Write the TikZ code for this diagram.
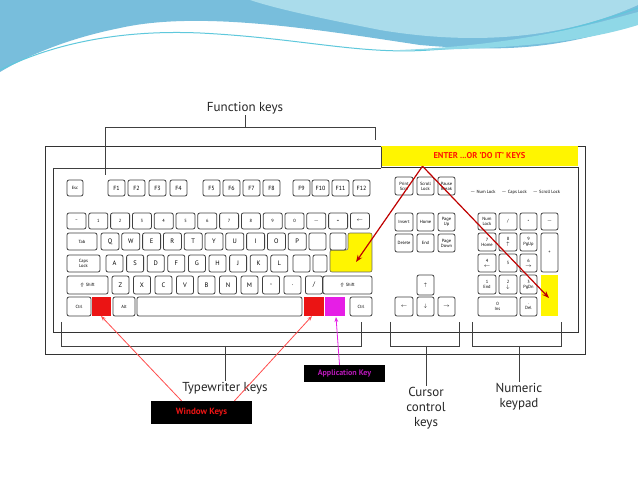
\documentclass[tikz,border=0pt]{standalone}
\usepackage{fontspec}
\setmainfont{PT Sans}
\usetikzlibrary{arrows.meta}
\definecolor{wave1}{RGB}{120,190,220}
\definecolor{wave2}{RGB}{170,220,235}
\definecolor{wave3}{RGB}{95,200,220}
\definecolor{winred}{RGB}{235,20,20}
\definecolor{appmag}{RGB}{230,30,230}
\definecolor{entyel}{RGB}{255,245,0}
\tikzset{
 keyst/.style={draw=black!75,line width=0.8pt,rounded corners=2pt,fill=white},
 kl/.style={font=\fontsize{4.5}{5}\selectfont,inner sep=0pt,align=center},
 frame/.style={draw=black!80,line width=1pt},
 brk/.style={draw=black!75,line width=0.8pt},
 lab/.style={font=\fontsize{13}{15}\selectfont,text=black!85,align=center,inner sep=1pt},
 parr/.style={draw=red!60!pink,line width=0.8pt,-{Stealth[length=5pt]}},
 rarr/.style={draw=red!75!black,line width=1.2pt,-{Stealth[length=7pt]}}
}
\newcommand\kk[5]{\draw[keyst] (#1,#2) rectangle (#3,#4); \node[kl] at ({(#1+#3)/2},{(#2+#4)/2}) {#5};}
\begin{document}
\begin{tikzpicture}[x=1pt,y=-1pt]
\useasboundingbox (0,0) rectangle (638,478);
\fill[white] (0,0) rectangle (638,478);
% waves
\fill[wave1] (0,0) -- (638,0) -- (638,22) .. controls (560,50) and (500,52) .. (420,45) .. controls (320,30) and (200,10) .. (120,28) .. controls (60,40) and (20,60) .. (0,72) -- cycle;
\fill[wave2] (250,0) -- (638,0) -- (638,5) .. controls (560,40) and (470,45) .. (380,30) .. controls (330,20) and (280,10) .. (250,0) -- cycle;
\draw[wave3,line width=1pt] (0,70) .. controls (60,40) and (130,30) .. (200,33) .. controls (300,38) and (360,55) .. (430,50) .. controls (520,45) and (590,25) .. (638,8);
\fill[wave3!70] (400,50) .. controls (520,45) and (590,25) .. (638,12) -- (638,25) .. controls (590,40) and (520,50) .. (400,50) -- cycle;
% keyboard frame
\draw[frame] (45,147) rectangle (585,355);
\draw[frame] (53,168) -- (53,333) -- (578,333) -- (578,168) -- (381,168);
\draw[brk] (53,168) -- (381,168);
\node[fill=entyel,minimum width=197pt,minimum height=20pt,inner sep=0pt,font=\fontsize{8.5}{9}\selectfont\bfseries,text=red!80!orange] (banner) at (479.5,156) {ENTER ...OR 'DO IT' KEYS};
\draw[brk] (381,147) -- (381,168);
% function keys bracket
\node[lab] (fk) at (245,108) {Function keys};
\draw[brk] (fk.south) -- (245,127);
\draw[brk] (105,175) -- (105,127) -- (375,127) -- (375,140);
% function row
\kk{67}{180}{83}{196}{Esc}
\foreach \x/\t in {108/F1,128/F2,149/F3,170/F4,203/F5,223/F6,243/F7,263/F8,293/F9,312/F10,332/F11,353/F12}
 {\kk{\x}{180}{\x+17}{196}{\fontsize{6}{6}\selectfont\t}}
% number row
\foreach \i/\t in {0/{\textasciitilde},1/1,2/2,3/3,4/4,5/5,6/6,7/7,8/8,9/9,10/0,11/{$-$},12/{=},13/{$\leftarrow$}}
 {\kk{67+21.8*\i}{213}{67+21.8*\i+19}{229}{\t}}
% Q row
\kk{67}{233}{97}{250}{Tab}
\foreach \i/\t in {0/Q,1/W,2/E,3/R,4/T,5/Y,6/U,7/I,8/O,9/P}
 {\kk{101+20.8*\i}{233}{101+20.8*\i+18}{250}{\fontsize{6.5}{7}\selectfont\t}}
\fill[entyel] (348,233) rectangle (372,250);
\fill[entyel] (330,250) rectangle (372,272);
\draw[black!60,line width=0.6pt,rounded corners=2pt] (348,233) -- (372,233) -- (372,272) -- (330,272) -- (330,250) -- (348,250) -- cycle;
\kk{309}{233}{326}{250}{}
\kk{330}{233}{346}{250}{}
% A row
\kk{67}{255}{100}{272}{Caps\\Lock}
\foreach \i/\t in {0/A,1/S,2/D,3/F,4/G,5/H,6/J,7/K,8/L}
 {\kk{106+20.6*\i}{255}{106+20.6*\i+17}{272}{\fontsize{6.5}{7}\selectfont\t}}
\kk{293}{255}{310}{272}{}
\kk{313}{255}{327}{272}{}
% Z row
\kk{67}{276}{108}{294}{$\Uparrow$ Shift}
\foreach \i/\t in {0/Z,1/X,2/C,3/V,4/B,5/N,6/M,7/{,},8/{.},9/{/}}
 {\kk{112+21.5*\i}{276}{112+21.5*\i+17}{294}{\fontsize{6.5}{7}\selectfont\t}}
\kk{323}{276}{372}{294}{$\Uparrow$ Shift}
% bottom row
\kk{67}{297}{91}{316}{Ctrl}
\fill[winred] (92,297) rectangle (111,316);
\coordinate (winL) at (101,316);
\kk{113}{297}{135}{316}{Alt}
\kk{137}{297}{302}{316}{}
\fill[winred] (304,297) rectangle (324,316);
\coordinate (winR) at (312,316);
\fill[appmag] (325,297) rectangle (345,316);
\coordinate (appk) at (336,317);
\kk{350}{297}{372}{316}{Ctrl}
% cursor section
\kk{395}{177}{413}{195}{Print\\Scrn}
\kk{417}{177}{434}{195}{Scroll\\Lock}
\kk{438}{177}{455}{195}{Pause\\Break}
\node[kl] at (515,192) {$-$ Num Lock \quad $-$ Caps Lock \quad $-$ Scroll Lock};
\kk{395}{213}{413}{231}{Insert}
\kk{417}{213}{434}{231}{Home}
\kk{438}{213}{455}{231}{Page\\Up}
\kk{395}{234}{413}{252}{Delete}
\kk{417}{234}{434}{252}{End}
\kk{438}{234}{455}{252}{Page\\Down}
\kk{417}{275}{434}{295}{$\uparrow$}
\kk{395}{297}{413}{316}{$\leftarrow$}
\kk{417}{297}{434}{316}{$\downarrow$}
\kk{438}{297}{455}{316}{$\rightarrow$}
% numeric keypad
\kk{478}{213}{496}{230}{Num\\Lock}
\kk{499}{213}{517}{230}{/}
\kk{520}{213}{537}{230}{*}
\kk{541}{213}{558}{230}{$-$}
\kk{478}{233}{496}{251}{7\\Home}
\kk{499}{233}{517}{251}{8\\$\uparrow$}
\kk{520}{233}{537}{251}{9\\PgUp}
\kk{541}{233}{558}{272}{+}
\kk{478}{254}{496}{272}{4\\$\leftarrow$}
\kk{499}{254}{517}{272}{5}
\kk{520}{254}{537}{272}{6\\$\rightarrow$}
\kk{478}{275}{496}{294}{1\\End}
\kk{499}{275}{517}{294}{2\\$\downarrow$}
\kk{520}{275}{537}{294}{3\\PgDn}
\kk{478}{297}{517}{316}{0\\Ins}
\kk{520}{297}{537}{316}{.\\Del}
\fill[entyel] (541,275) rectangle (558,316);
\coordinate (entN) at (549,298);
\coordinate (entT) at (356,262);
% bottom brackets
\draw[brk] (61,322) -- (61,346) -- (361,346) -- (361,322);
\draw[brk] (390,322) -- (390,346) -- (459,346) -- (459,322);
\draw[brk] (472,322) -- (472,346) -- (561,346) -- (561,322);
\node[lab] (tw) at (225,388) {Typewriter keys};
\node[lab] (cc) at (426,408) {Cursor\\control\\keys};
\node[lab] (nk) at (519,397) {Numeric\\keypad};
\draw[brk] (225,346) -- (tw.north);
\draw[brk] (426,346) -- (cc.north);
\draw[brk] (519,346) -- (nk.north);
% labels boxes
\node[fill=black,text=appmag!80!black,font=\fontsize{8}{9}\selectfont\bfseries,minimum width=81pt,minimum height=17pt,inner sep=0pt] (appb) at (344.5,373.5) {Application Key};
\node[fill=black,text=winred,font=\fontsize{9}{10}\selectfont\bfseries,minimum width=101pt,minimum height=23pt,inner sep=0pt] (winb) at (201.5,412.5) {Window Keys};
% arrows
\draw[parr] ([xshift=-20pt]winb.north) -- (winL);
\draw[parr] ([xshift=33pt]winb.north) -- (winR);
\draw[parr,draw=appmag] ([xshift=-5pt]appb.north) -- (appk);
\draw[rarr] ([xshift=-57pt]banner.south) -- (entT);
\draw[rarr] ([xshift=-57pt]banner.south) -- (entN);
\end{tikzpicture}
\end{document}
